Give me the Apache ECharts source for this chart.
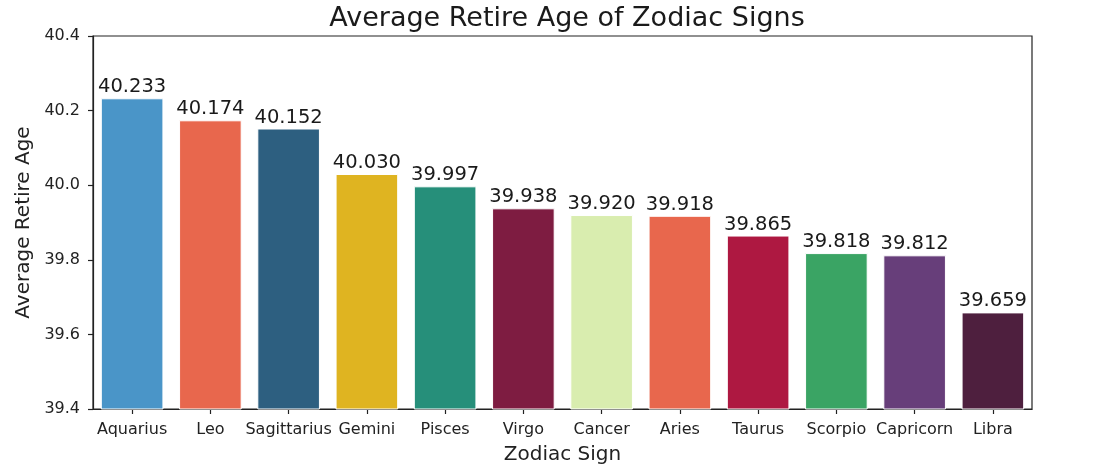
<!DOCTYPE html>
<html><head><meta charset="utf-8">
<script src="https://cdn.jsdelivr.net/npm/echarts@6/dist/echarts.min.js"></script>
<style>html,body{margin:0;padding:0;background:#fff}#c{width:1099px;height:474px}</style>
</head><body><div id="c"></div>
<script>
const categories = ["Aquarius","Leo","Sagittarius","Gemini","Pisces","Virgo","Cancer","Aries","Taurus","Scorpio","Capricorn","Libra"];
const values = [40.233,40.174,40.152,40.030,39.997,39.938,39.920,39.918,39.865,39.818,39.812,39.659];
const colors = ["#4a95c8","#e8674d","#2d5f80","#dfb421","#268f7a","#7e1c41","#d9edaf","#e8674d","#ae1841","#3aa464","#673e7a","#4e1f3e"];
const yTicks = [39.4,39.6,39.8,40.0,40.2,40.4];

const font = "DejaVu Sans";
const chart = echarts.init(document.getElementById('c'), null, {renderer:'canvas'});
chart.setOption({
  animation:false,
  title:{text:"Average Retire Age of Zodiac Signs",left:562,top:0,textAlign:'center',
    textStyle:{fontFamily:font,fontSize:27,fontWeight:'normal',color:'#1a1a1a'}},
  grid:{left:93,right:67,top:36,bottom:65,containLabel:false,outerBoundsMode:'none',
    show:true,borderColor:'#222',borderWidth:1.2,backgroundColor:'transparent'},
  xAxis:{type:'category',data:categories,
    axisLine:{lineStyle:{color:'#222',width:1.2}},
    axisTick:{show:true,inside:false,alignWithLabel:true,length:5,lineStyle:{color:'#222',width:1.2}},
    axisLabel:{fontFamily:font,fontSize:16,color:'#222',margin:13,interval:0},
    name:"Zodiac Sign",nameLocation:'middle',nameGap:36,
    nameTextStyle:{fontFamily:font,fontSize:20,color:'#222'}},
  yAxis:{type:'value',min:yTicks[0],max:yTicks[yTicks.length-1],interval:0.2,
    axisLine:{show:true,lineStyle:{color:'#222',width:1.2}},
    axisTick:{show:true,inside:false,length:5,lineStyle:{color:'#222',width:1.2}},
    splitLine:{show:false},
    axisLabel:{fontFamily:font,fontSize:16,color:'#222',margin:13,formatter:v=>v.toFixed(1)},
    name:"Average Retire Age",nameLocation:'middle',nameGap:58,nameRotate:90,
    nameTextStyle:{fontFamily:font,fontSize:20,color:'#222'}},
  series:[{type:'bar',barWidth:'80%',
    data:values.map((v,i)=>({value:v,itemStyle:{color:colors[i],borderColor:'#fff',borderWidth:1}})),
    label:{show:true,position:'top',distance:1,fontFamily:font,fontSize:19.5,color:'#1a1a1a',
      formatter:p=>p.value.toFixed(3)}}]
});
</script></body></html>
